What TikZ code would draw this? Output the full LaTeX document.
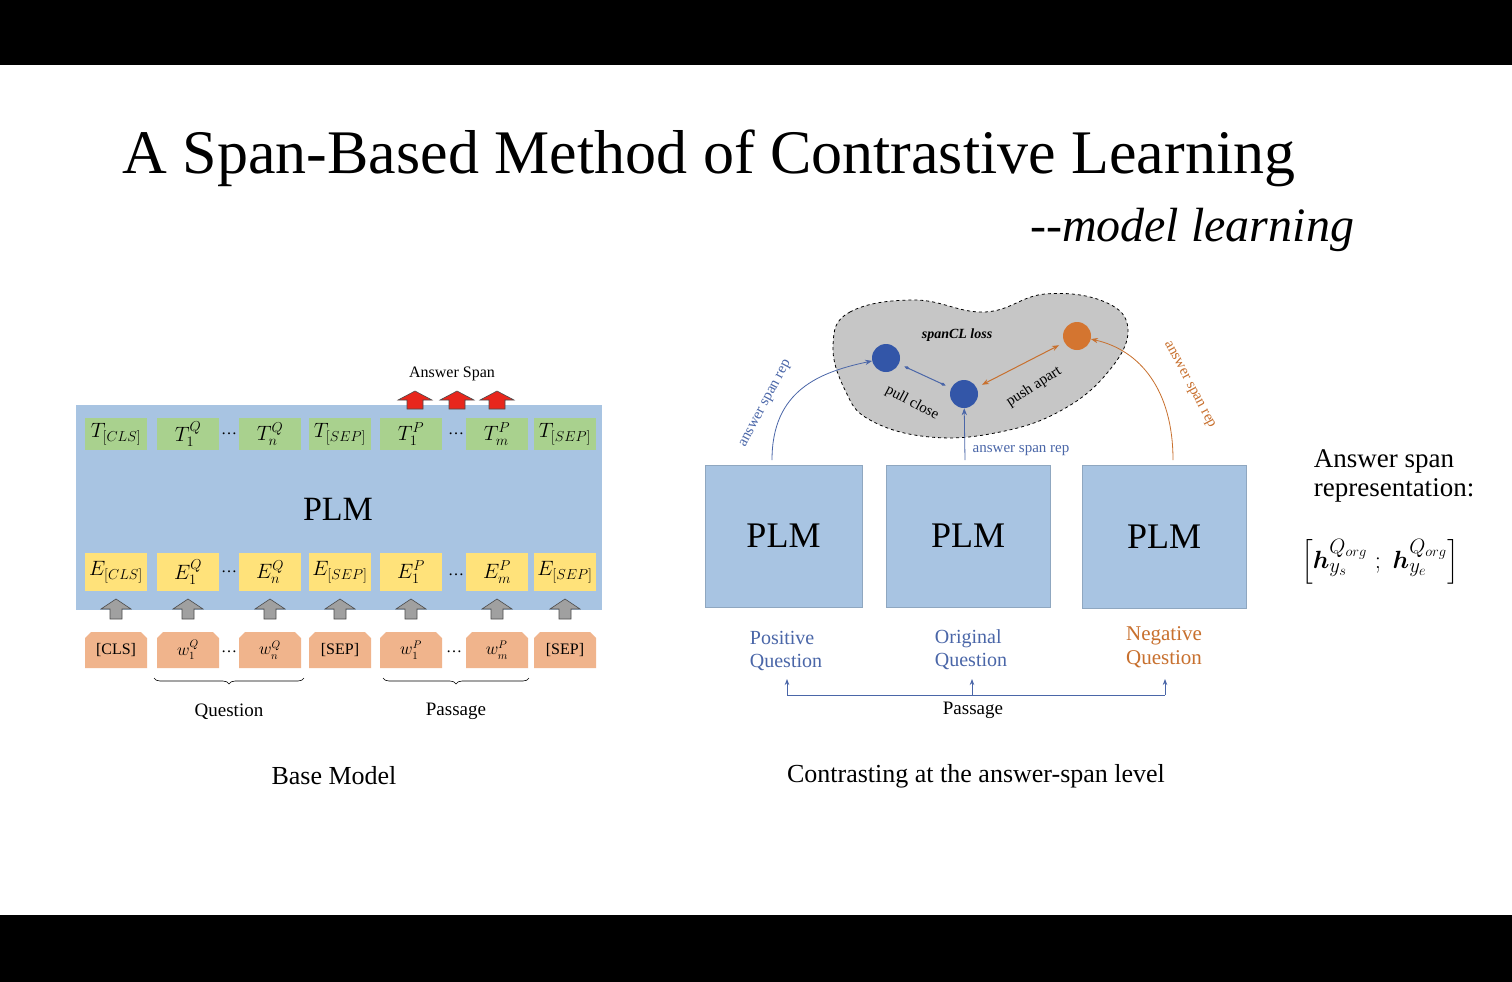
\documentclass[tikz,border=0pt]{standalone}
\usepackage{fontspec}
\setmainfont{Liberation Serif}
\usepackage{amsmath,bm}
\usetikzlibrary{arrows.meta,shapes.geometric,shapes.misc,decorations.pathreplacing}
\definecolor{plm}{HTML}{A8C4E2}
\definecolor{tg}{HTML}{A9D18E}
\definecolor{ey}{HTML}{FFE27A}
\definecolor{wo}{HTML}{F0B48C}
\definecolor{qb}{HTML}{4A66A8}
\definecolor{qo}{HTML}{C8702E}
\definecolor{dotb}{HTML}{3356A8}
\definecolor{doto}{HTML}{D47530}
\definecolor{garrc}{HTML}{A0A0A0}
\definecolor{rarrc}{HTML}{E8261C}
\tikzset{
 fs/.style={font=\fontsize{#1}{#1}\selectfont},
 tbox/.style={fill=tg,minimum width=62pt,minimum height=32pt,inner sep=0pt,fs=22},
 ebox/.style={fill=ey,minimum width=62pt,minimum height=38pt,inner sep=0pt,fs=22},
 wbox/.style={fill=wo,minimum width=62pt,minimum height=36pt,inner sep=0pt,chamfered rectangle,chamfered rectangle corners={north west,north east},chamfered rectangle xsep=3pt,chamfered rectangle sep=3pt,fs=16},
 bigplm/.style={fill=plm,draw=plm!85!black,inner sep=0pt,fs=36},
 dotsn/.style={fs=16},
 pics/uparr/.style args={#1/#2/#3/#4}{code={
   \path[fill=#1,draw=black!70,line width=0.6pt] (-#3,0) -- (-#3,-#4) -- (-#2,-#4) -- (0,-2*#4) -- (#2,-#4) -- (#3,-#4) -- (#3,0) -- cycle;}},
}
\begin{document}
\begin{tikzpicture}[x=1pt,y=-1pt]
\useasboundingbox (0,0) rectangle (1512,982);
\fill[white] (0,0) rectangle (1512,982);
\fill[black] (0,0) rectangle (1512,65);
\fill[black] (0,915) rectangle (1512,982);
\node[fs=62] (title) at (709,158) {A Span-Based Method of Contrastive Learning};
\node[fs=48] (sub) at (1192,230) {\itshape {-}{-}model learning};
% left
\node[fill=plm,minimum width=526pt,minimum height=205pt,inner sep=0pt] (plmbig) at (339,507.5) {};
\node[fs=34] (plmtxt) at (338,509) {PLM};
\foreach \x/\t/\e/\w/\n in {116/{$T_{[CLS]}$}/{$E_{[CLS]}$}/{[CLS]}/a,
 188/{$T_1^Q$}/{$E_1^Q$}/{$w_1^Q$}/b,
 270/{$T_n^Q$}/{$E_n^Q$}/{$w_n^Q$}/c,
 340/{$T_{[SEP]}$}/{$E_{[SEP]}$}/{[SEP]}/d,
 411/{$T_1^P$}/{$E_1^P$}/{$w_1^P$}/e,
 497/{$T_m^P$}/{$E_m^P$}/{$w_m^P$}/f,
 565/{$T_{[SEP]}$}/{$E_{[SEP]}$}/{[SEP]}/g}{
 \node[tbox] (t\n) at (\x,434) {\t};
 \node[ebox] (e\n) at (\x,572) {\e};
 \node[wbox] (w\n) at (\x,650) {\w};
 \pic at (\x,619) {uparr={garrc/15/6/10}};
}
\foreach \x/\y/\n in {229/434/1,456/434/2,229/572/3,456/575/4,229/652/5,454/652/6}{\node[dotsn] (d\n) at (\x,\y) {\dots};}
\pic at (415,409) {uparr={rarrc/17/8/9}};
\pic at (457,409) {uparr={rarrc/17/8/9}};
\pic at (497,409) {uparr={rarrc/17/8/9}};
\node[fs=16] (ans) at (452,374) {Answer Span};
\draw[decorate,decoration={brace,mirror,amplitude=6pt},line width=0.6pt] (154,678) -- (304,678);
\draw[decorate,decoration={brace,mirror,amplitude=6pt},line width=0.6pt] (383,678) -- (529,678);
\node[fs=19] (qlab) at (229,712) {Question};
\node[fs=19] (plab) at (456,711) {Passage};
\node[fs=26] (base) at (334,776) {Base Model};
% right
\node[bigplm,minimum width=157pt,minimum height=142pt] (p1) at (783.5,536) {PLM};
\node[bigplm,minimum width=164pt,minimum height=142pt] (p2) at (968,536) {PLM};
\node[bigplm,minimum width=164pt,minimum height=143pt] (p3) at (1164,536.5) {PLM};
\node[fs=20,text=qb,align=left] (q1) at (786,651) {Positive\\[3pt]Question};
\node[fs=20,text=qb,align=left] (q2) at (971,650) {Original\\[3pt]Question};
\node[fs=21,text=qo,align=center] (q3) at (1164,647) {Negative\\[3pt]Question};
\coordinate (c1) at (787,695);
\coordinate (c2) at (972,695);
\coordinate (c3) at (1165,695);
\draw[qb,line width=0.8pt] (c1) -- (c3);
\foreach \i in {1,2,3}{\draw[qb,line width=0.8pt,-{Stealth[length=6pt]}] (c\i) -- ++(0,-16);}
\node[fs=19] (pass) at (973,710) {Passage};
\node[fs=26] (contr) at (976,776) {Contrasting at the answer-span level};
% cloud
\draw[dashed,line width=0.8pt,fill=gray!45] plot[smooth cycle,tension=0.7] coordinates {(833,345) (850,312) (915,300) (985,312) (1045,294) (1105,302) (1128,330) (1108,372) (1062,410) (1000,432) (930,437) (870,420) (845,390)};
\node (loss) at (957,335) {\fontsize{14}{14}\selectfont\bfseries\itshape spanCL loss};
\node[circle,fill=dotb,minimum size=28pt,inner sep=0pt] (b1) at (886,358) {};
\node[circle,fill=dotb,minimum size=28pt,inner sep=0pt] (b2) at (964,394) {};
\node[circle,fill=doto,minimum size=28pt,inner sep=0pt] (o1) at (1077,336) {};
\draw[qb,line width=1pt,{Diamond[length=6pt]}-{Diamond[length=6pt]},shorten <=6pt,shorten >=6pt] (b1) -- (b2);
\draw[qo,line width=1pt,{Stealth[length=7pt]}-{Stealth[length=7pt]},shorten <=6pt,shorten >=6pt] (b2) -- (o1);
\node[fs=15,rotate=-28] (pc) at (912,403) {pull close};
\node[fs=15,rotate=33] (pa) at (1034,387) {push apart};
\coordinate (s1) at (772,460);
\coordinate (s2) at (965,460);
\coordinate (s3) at (1173,460);
\draw[qb,line width=0.8pt,-{Stealth[length=7pt]}] (s1) .. controls (772,390) and (820,372) .. (b1);
\draw[qb,line width=0.8pt,-{Stealth[length=7pt]}] (s2) -- (b2);
\draw[qo,line width=0.8pt,-{Stealth[length=7pt]}] (s3) .. controls (1173,390) and (1140,350) .. (o1);
\node[fs=15,text=qb,rotate=62] (l1) at (766,404) {answer span rep};
\node[fs=15,text=qb] (l2) at (1021,451) {answer span rep};
\node[fs=15,text=qo,rotate=-62] (l3) at (1189,385) {answer span rep};
% formula
\node[fs=27,align=left] (asr) at (1394,476) {Answer span\\[2pt]representation:};
\node[fs=30] (form) at (1380,562) {$\left[\bm{h}_{y_s}^{Q_{org}}\ ;\ \bm{h}_{y_e}^{Q_{org}}\right]$};
\end{tikzpicture}
\end{document}
